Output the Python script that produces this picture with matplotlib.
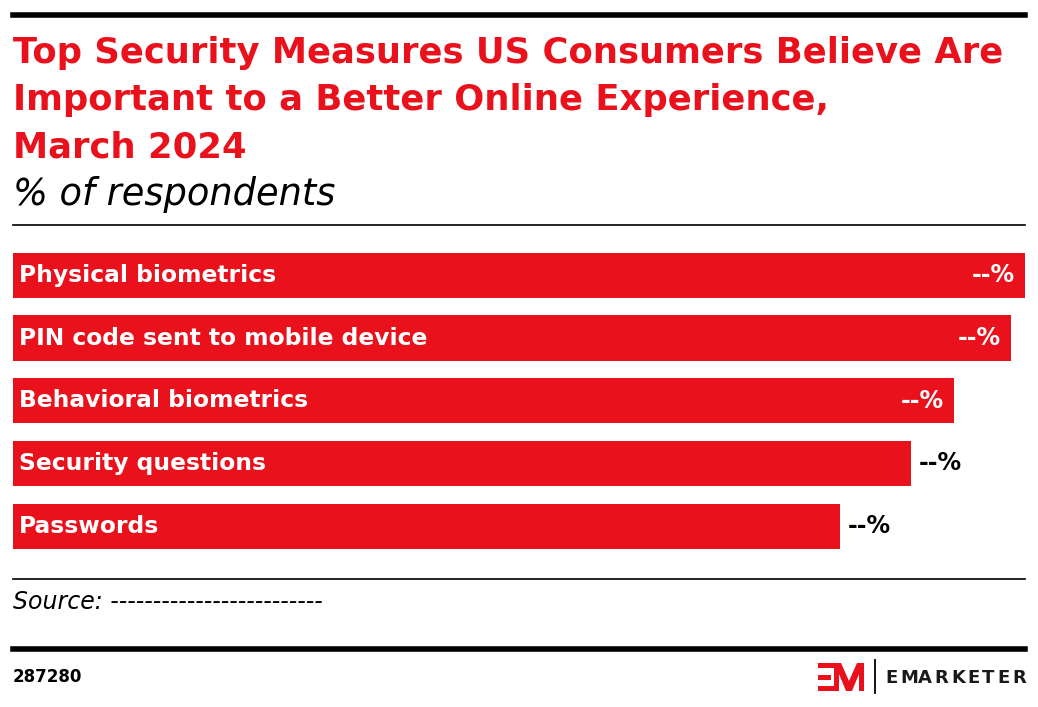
import matplotlib
matplotlib.use("Agg")
import matplotlib.pyplot as plt
from matplotlib.patches import Polygon, Rectangle

categories = ["Physical biometrics", "PIN code sent to mobile device",
              "Behavioral biometrics", "Security questions", "Passwords"]
values = [100.0, 98.6, 93.0, 88.7, 81.7]  # relative bar lengths
value_labels = ["--%", "--%", "--%", "--%", "--%"]

title_lines = ["Top Security Measures US Consumers Believe Are",
               "Important to a Better Online Experience,",
               "March 2024"]
subtitle = "% of respondents"
source = "Source: -------------------------"
chart_id = "287280"

RED = "#E8111C"
W, H = 1038, 707
fig = plt.figure(figsize=(W / 100, H / 100), dpi=100)
plt.rcParams['font.family'] = ['DejaVu Sans']

def fx(px):
    return px / W

def fy(py):
    return 1 - py / H

# rules
fig.add_artist(plt.Line2D([fx(13), fx(1025)], [fy(15), fy(15)], color="black", lw=4))
fig.add_artist(plt.Line2D([fx(13), fx(1025)], [fy(225), fy(225)], color="black", lw=1.2))
fig.add_artist(plt.Line2D([fx(13), fx(1025)], [fy(579), fy(579)], color="black", lw=1.2))
fig.add_artist(plt.Line2D([fx(13), fx(1025)], [fy(649), fy(649)], color="black", lw=4))

for line, base in zip(title_lines, [63, 110, 157]):
    fig.text(fx(13), fy(base), line, color=RED, fontsize=25.5, fontweight="bold",
             va="baseline", ha="left")
fig.text(fx(13), fy(205), subtitle, color="black", fontsize=26.5, style="italic",
         va="baseline", ha="left")
fig.text(fx(13), fy(609), source, color="black", fontsize=17, style="italic",
         va="baseline", ha="left")
fig.text(fx(13), fy(677), chart_id, color="black", fontsize=12, fontweight="bold",
         va="center", ha="left")

# bars
ax = fig.add_axes([fx(13), fy(557.5), fx(1025) - fx(13), (557.5 - 244) / H])
ypos = list(range(len(categories)))
ax.barh(ypos, values, height=0.72, color=RED, edgecolor="none")
ax.set_xlim(0, 100)
ax.set_ylim(len(categories) - 0.5, -0.5)
ax.axis("off")
for i, (cat, v, lab) in enumerate(zip(categories, values, value_labels)):
    ax.text(0.6, i, cat, color="white", fontsize=16.8, fontweight="bold",
            va="center", ha="left")
    if v > 90:
        ax.text(v - 1.0, i, lab, color="white", fontsize=17, fontweight="bold",
                va="center", ha="right")
    else:
        ax.text(v + 0.8, i, lab, color="black", fontsize=17, fontweight="bold",
                va="center", ha="left")

# logo
lax = fig.add_axes([0, 0, 1, 1], zorder=5)
lax.set_xlim(0, W)
lax.set_ylim(H, 0)
lax.axis("off")
lax.add_patch(Rectangle((818, 663), 16, 5, color=RED, lw=0))
lax.add_patch(Rectangle((818, 674.5), 13, 5, color=RED, lw=0))
lax.add_patch(Rectangle((818, 686), 16, 5, color=RED, lw=0))
lax.add_patch(Polygon([(834, 663), (841, 663), (849, 681), (857, 663), (864, 663),
                       (864, 691), (859, 691), (859, 674), (852, 691), (846, 691),
                       (839, 674), (839, 691), (834, 691)], closed=True, color=RED, lw=0))
lax.plot([875, 875], [660, 693], color="black", lw=1.3)
letters = "EMARKETER"
xs = [885, 900, 918, 934, 951, 967, 982, 997, 1012]
for ch, x in zip(letters, xs):
    lax.text(x, 678, ch, fontsize=13, fontweight="bold", color="#1a1a1a",
             va="center", ha="left")

fig.savefig("out.png", dpi=100)
